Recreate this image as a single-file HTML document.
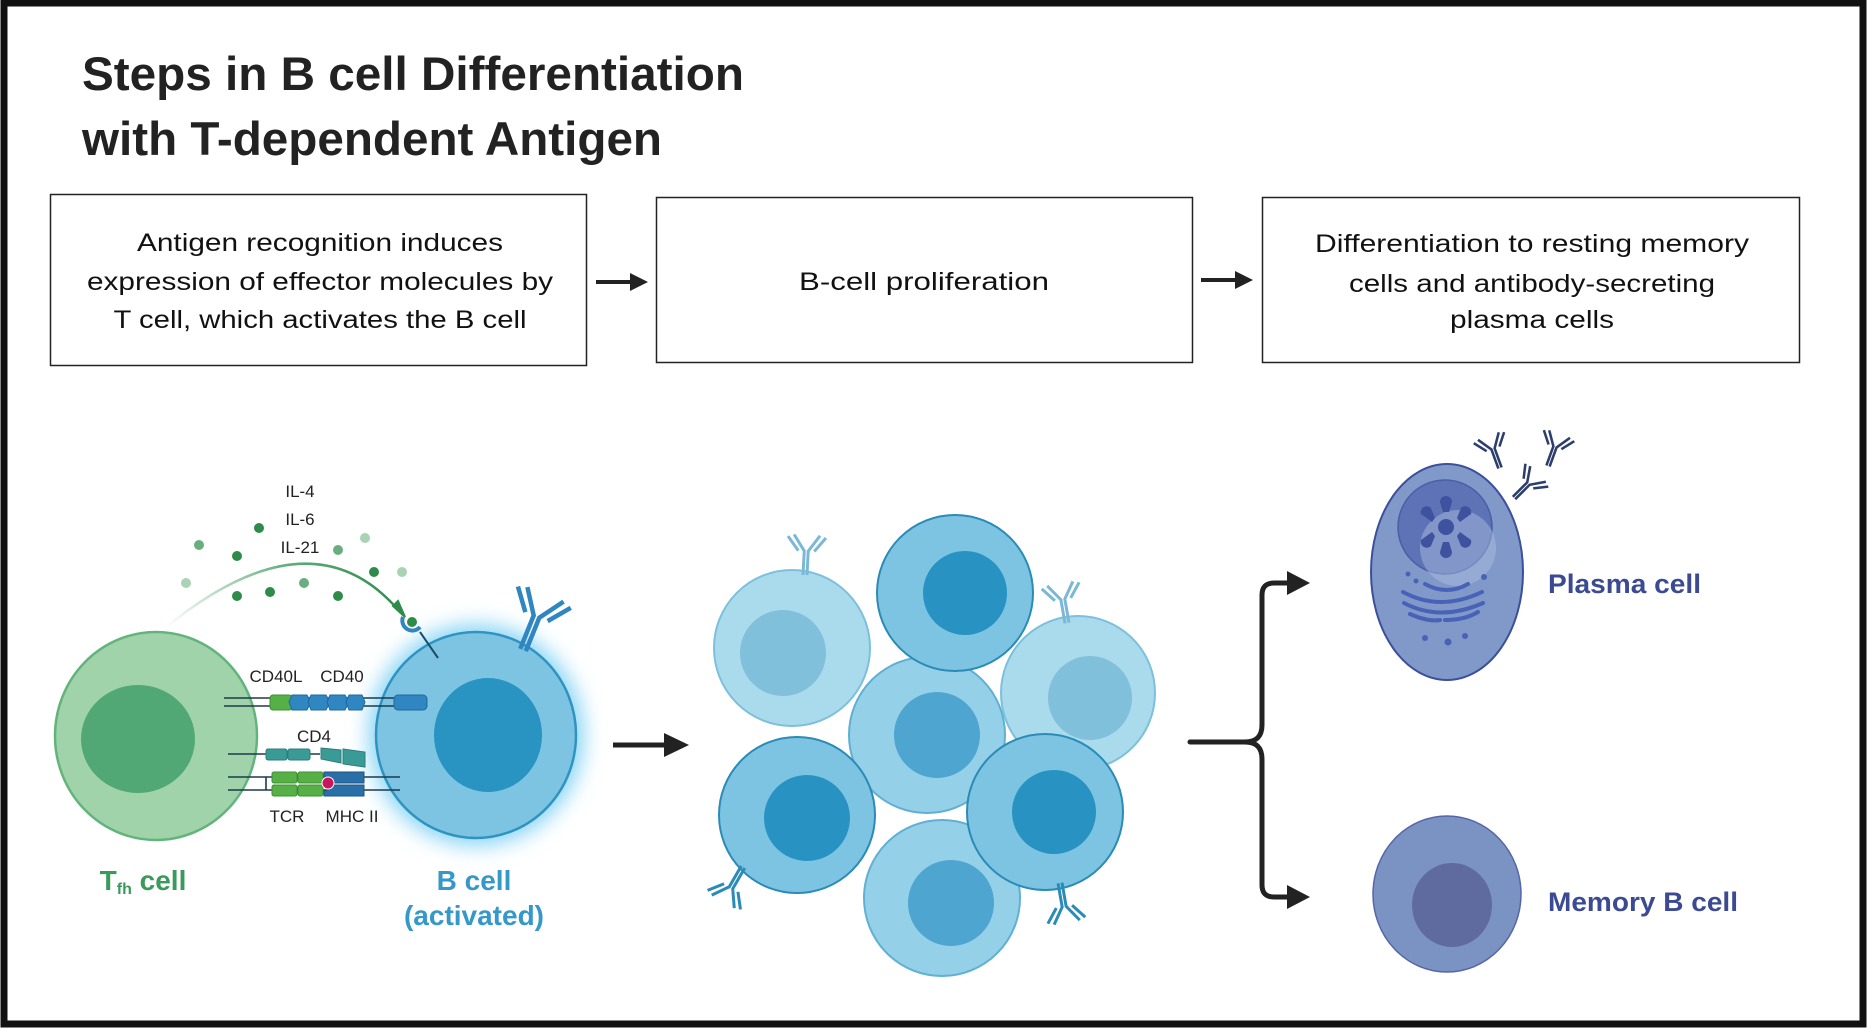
<!DOCTYPE html>
<html><head><meta charset="utf-8"><style>
html,body{margin:0;padding:0;background:#fff;}
svg{display:block;}
text{font-family:"Liberation Sans",sans-serif;}
</style></head><body>
<svg width="1867" height="1028" viewBox="0 0 1867 1028" xmlns="http://www.w3.org/2000/svg">
<defs>
<linearGradient id="arcg" x1="165" y1="0" x2="402" y2="0" gradientUnits="userSpaceOnUse">
<stop offset="0" stop-color="#3a9a5c" stop-opacity="0"/><stop offset="0.5" stop-color="#3a9a5c" stop-opacity="0.8"/><stop offset="1" stop-color="#2e8b4a"/>
</linearGradient>
<filter id="blur" x="-50%" y="-50%" width="200%" height="200%"><feGaussianBlur stdDeviation="10"/></filter>
<g id="ab">
<path d="M-2,0 V-24 L-13,-40 M2,0 V-24 L13,-40" fill="none" stroke-width="3"/>
<path d="M-8,-24 L-19,-38 M8,-24 L19,-38" fill="none" stroke-width="3"/>
</g>
</defs>
<rect x="0" y="0" width="1867" height="1028" fill="#fff"/>
<rect x="4" y="3" width="1859" height="1021" fill="none" stroke="#111" stroke-width="7"/>

<text x="82" y="90" font-size="47" font-weight="bold" fill="#222" textLength="662" lengthAdjust="spacingAndGlyphs">Steps in B cell Differentiation</text>
<text x="82" y="155" font-size="47" font-weight="bold" fill="#222" textLength="580" lengthAdjust="spacingAndGlyphs">with T-dependent Antigen</text>

<g fill="none" stroke="#222" stroke-width="1.5">
<rect x="50.5" y="194.5" width="536" height="171"/>
<rect x="656.5" y="197.5" width="536" height="165"/>
<rect x="1262.5" y="197.5" width="537" height="165"/>
</g>
<g font-size="25" fill="#111" text-anchor="middle">
<text x="320" y="251" textLength="366" lengthAdjust="spacingAndGlyphs">Antigen recognition induces</text>
<text x="320" y="290" textLength="466" lengthAdjust="spacingAndGlyphs">expression of effector molecules by</text>
<text x="320" y="328" textLength="413" lengthAdjust="spacingAndGlyphs">T cell, which activates the B cell</text>
<text x="924" y="290" textLength="250" lengthAdjust="spacingAndGlyphs">B-cell proliferation</text>
<text x="1532" y="252" textLength="434" lengthAdjust="spacingAndGlyphs">Differentiation to resting memory</text>
<text x="1532" y="292" textLength="366" lengthAdjust="spacingAndGlyphs">cells and antibody-secreting</text>
<text x="1532" y="328" textLength="164" lengthAdjust="spacingAndGlyphs">plasma cells</text>
</g>
<g fill="#222" stroke="#222">
<line x1="596" y1="282" x2="632" y2="282" stroke-width="4"/><path d="M630,273 L648,282 L630,291Z" stroke="none"/>
<line x1="1201" y1="280" x2="1237" y2="280" stroke-width="4"/><path d="M1235,271 L1253,280 L1235,289Z" stroke="none"/>
</g>

<ellipse cx="156" cy="736" rx="101" ry="104" fill="#a0d3aa" stroke="#63b47c" stroke-width="2.5"/>
<ellipse cx="138" cy="739" rx="57" ry="54" fill="#52a874"/>
<ellipse cx="476" cy="735" rx="108" ry="111" fill="#8ad6f5" filter="url(#blur)"/>
<ellipse cx="476" cy="735" rx="100" ry="103" fill="#7dc4e2" stroke="#2f93c2" stroke-width="2.5"/>
<ellipse cx="488" cy="735" rx="54" ry="57" fill="#2993c2"/>

<g stroke="#1d3a4a" stroke-width="1.6">
<line x1="224" y1="698" x2="427" y2="698"/><line x1="224" y1="706" x2="427" y2="706"/>
<line x1="228" y1="754" x2="320" y2="754"/>
<line x1="228" y1="777" x2="400" y2="777"/><line x1="228" y1="790" x2="400" y2="790"/>
<line x1="266" y1="777" x2="266" y2="790"/>
</g>
<rect x="270" y="695" width="22" height="15" rx="3" fill="#56b046" stroke="#3d8f35"/>
<g fill="#2f86c0" stroke="#1f6aa0" stroke-width="1">
<path d="M292,695 h15 l4,7 l-4,8 h-15 l-3,-8Z"/>
<path d="M311,695 h15 l4,7 l-4,8 h-15 l-3,-8Z"/>
<path d="M330,695 h15 l4,7 l-4,8 h-15 l-3,-8Z"/>
<path d="M349,695 h13 l3,7 l-3,8 h-13 l-3,-8Z"/>
<rect x="394" y="695" width="33" height="15" rx="4"/>
</g>
<g fill="#3a9a96" stroke="#2b7f7b" stroke-width="1">
<rect x="266" y="749" width="21" height="11" rx="2"/><rect x="288" y="749" width="22" height="11" rx="2"/>
<path d="M321,748 l20,2 v13 l-20,-4Z"/><path d="M343,749 l22,3 v15 l-22,-3Z"/>
</g>
<g fill="#56b046" stroke="#3d8f35" stroke-width="1">
<rect x="272" y="772" width="25" height="11" rx="2"/><rect x="298" y="772" width="25" height="11" rx="2"/>
<rect x="272" y="785" width="25" height="11" rx="2"/><rect x="298" y="785" width="25" height="11" rx="2"/>
</g>
<g fill="#2a6fa8" stroke="#1d5585" stroke-width="1">
<path d="M324,772 h40 v11 h-34 a6,6 0 0 0 -6,-6Z"/>
<path d="M324,796 h40 v-11 h-34 a6,6 0 0 1 -6,6Z"/>
</g>
<circle cx="328" cy="783" r="6" fill="#c8175d" stroke="#fff" stroke-width="1"/>
<g font-size="17" fill="#222" text-anchor="middle">
<text x="276" y="682">CD40L</text><text x="342" y="682">CD40</text>
<text x="314" y="742">CD4</text>
<text x="287" y="822">TCR</text><text x="352" y="822">MHC II</text>
<text x="300" y="497">IL-4</text><text x="300" y="525">IL-6</text><text x="300" y="553">IL-21</text>
</g>
<g>
<circle cx="259" cy="528" r="5" fill="#2e8b4a"/><circle cx="199" cy="545" r="5" fill="#6aae7f"/>
<circle cx="237" cy="556" r="5" fill="#2e8b4a"/><circle cx="365" cy="538" r="5" fill="#a9d3b3"/>
<circle cx="338" cy="550" r="5" fill="#6aae7f"/><circle cx="374" cy="572" r="5" fill="#2e8b4a"/>
<circle cx="402" cy="572" r="5" fill="#a9d3b3"/><circle cx="186" cy="583" r="5" fill="#a9d3b3"/>
<circle cx="304" cy="583" r="5" fill="#6aae7f"/><circle cx="237" cy="596" r="5" fill="#2e8b4a"/>
<circle cx="270" cy="592" r="5" fill="#2e8b4a"/><circle cx="338" cy="596" r="5" fill="#2e8b4a"/>
</g>
<path d="M165,628 Q312,508 400,612" fill="none" stroke="url(#arcg)" stroke-width="2.5"/>
<path d="M393,606 L405,617 L398,601Z" fill="#2e8b4a" stroke="#2e8b4a" stroke-width="2"/>
<line x1="420" y1="632" x2="438" y2="658" stroke="#1d4a66" stroke-width="2"/>
<path d="M403,617 a10,10 0 0 0 17,10" fill="none" stroke="#2f86c0" stroke-width="4"/>
<circle cx="412" cy="622" r="5" fill="#2e8b4a"/>
<use href="#ab" transform="translate(523,650) rotate(22) scale(1.5)" stroke="#2f86c0"/>

<g font-size="28" font-weight="bold" text-anchor="middle">
<text x="143" y="890" fill="#3a9a5c"><tspan>T</tspan><tspan font-size="16" dy="4">fh</tspan><tspan dy="-4"> cell</tspan></text>
<text x="474" y="890" fill="#3598c9">B cell</text>
<text x="474" y="925" fill="#3598c9">(activated)</text>
</g>

<line x1="613" y1="745" x2="668" y2="745" stroke="#222" stroke-width="5"/>
<path d="M664,733 L689,745 L664,757Z" fill="#222"/>

<g stroke-width="2">
<circle cx="942" cy="898" r="78" fill="#94d0e8" stroke="#5fb0d3"/><circle cx="951" cy="903" r="43" fill="#4ea5cf"/>
<circle cx="1078" cy="693" r="77" fill="#aadbed" stroke="#7cc0dd"/><circle cx="1090" cy="698" r="42" fill="#80c0db"/>
<circle cx="927" cy="735" r="78" fill="#94d0e8" stroke="#5fb0d3"/><circle cx="937" cy="735" r="43" fill="#4ea5cf"/>
<circle cx="792" cy="648" r="78" fill="#aadbed" stroke="#7cc0dd"/><circle cx="783" cy="653" r="43" fill="#80c0db"/>
<circle cx="955" cy="593" r="78" fill="#7dc4e2" stroke="#2a8bb8"/><circle cx="965" cy="593" r="42" fill="#2893c2"/>
<circle cx="797" cy="815" r="78" fill="#7dc4e2" stroke="#2a8bb8"/><circle cx="807" cy="818" r="43" fill="#2893c2"/>
<circle cx="1045" cy="812" r="78" fill="#7dc4e2" stroke="#2a8bb8"/><circle cx="1054" cy="812" r="42" fill="#2893c2"/>
</g>
<use href="#ab" transform="translate(805,575) rotate(3)" stroke="#7ab8d6"/>
<use href="#ab" transform="translate(1067,623) rotate(-10)" stroke="#7ab8d6"/>
<use href="#ab" transform="translate(743,867) rotate(-150)" stroke="#2a8bb8"/>
<use href="#ab" transform="translate(1060,883) rotate(170)" stroke="#2a8bb8"/>

<g fill="none" stroke="#222" stroke-width="5" stroke-linecap="round">
<path d="M1190,742 H1245 Q1262,742 1262,725 V595 Q1262,583 1274,583 H1292"/>
<path d="M1245,742 Q1262,742 1262,759 V885 Q1262,897 1274,897 H1292"/>
</g>
<path d="M1287,571 L1310,583 L1287,595Z" fill="#222"/>
<path d="M1287,885 L1310,897 L1287,909Z" fill="#222"/>

<ellipse cx="1447" cy="572" rx="76" ry="108" fill="#8099c9" stroke="#3c4f9b" stroke-width="2"/>
<circle cx="1445" cy="527" r="47" fill="#5d73b5" stroke="#4a5ea6" stroke-width="1.5"/>
<circle cx="1458" cy="548" r="38" fill="#b0c2e2" opacity="0.45"/>
<g fill="#3e52a0">
<circle cx="1446" cy="527" r="8"/>
<path d="M1440,502 a6,6 0 0 1 12,0 l-3,10 h-6Z"/>
<path d="M1440,552 a6,6 0 0 0 12,0 l-3,-10 h-6Z" />
<path d="M1421,514 a6,6 0 0 1 10,-6 l4,10 l-3,4Z"/>
<path d="M1471,514 a6,6 0 0 0 -10,-6 l-4,10 l3,4Z"/>
<path d="M1421,540 a6,6 0 0 0 10,6 l4,-10 l-3,-4Z"/>
<path d="M1471,540 a6,6 0 0 1 -10,6 l-4,-10 l3,-4Z"/>
</g>
<g fill="none" stroke="#4862b8" stroke-width="4" stroke-linecap="round">
<path d="M1425,584 Q1447,596 1468,584"/>
<path d="M1403,592 Q1440,612 1482,592"/>
<path d="M1404,603 Q1440,622 1483,603"/>
<path d="M1410,614 Q1428,622 1440,620 M1445,620 Q1465,620 1478,612"/>
</g>
<g fill="#4862b8">
<circle cx="1408" cy="574" r="2.5"/><circle cx="1416" cy="581" r="2.5"/><circle cx="1484" cy="577" r="3"/>
<circle cx="1425" cy="638" r="3"/><circle cx="1448" cy="642" r="3.5"/><circle cx="1465" cy="636" r="3"/>
</g>
<use href="#ab" transform="translate(1500,468) rotate(-20) scale(0.85)" stroke="#2c3e6b"/>
<use href="#ab" transform="translate(1548,466) rotate(20) scale(0.85)" stroke="#2c3e6b"/>
<use href="#ab" transform="translate(1514,498) rotate(45) scale(0.85)" stroke="#2c3e6b"/>

<ellipse cx="1447" cy="894" rx="74" ry="78" fill="#7b93c2" stroke="#5566a8" stroke-width="1.5"/>
<ellipse cx="1452" cy="905" rx="40" ry="42" fill="#5f6b9e"/>

<g font-size="27" font-weight="bold" fill="#3b4a93">
<text x="1548" y="593" textLength="153" lengthAdjust="spacingAndGlyphs">Plasma cell</text>
<text x="1548" y="911" textLength="190" lengthAdjust="spacingAndGlyphs">Memory B cell</text>
</g>
</svg>
</body></html>
